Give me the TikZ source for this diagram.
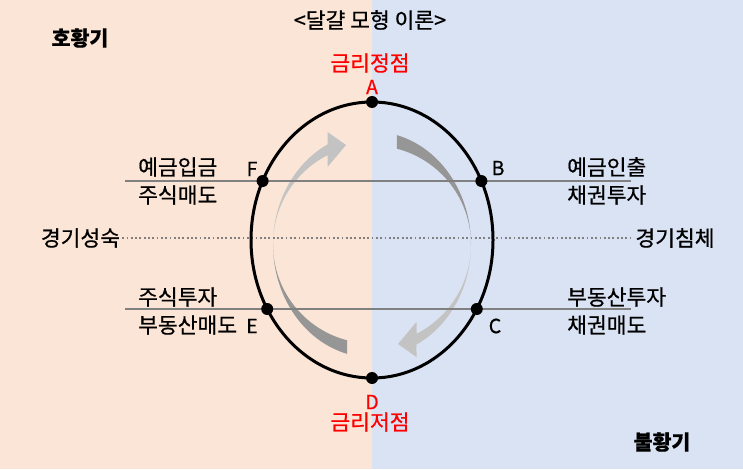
\documentclass[tikz,border=0pt]{standalone}
\usepackage{fontspec}
\setmainfont{Noto Sans CJK KR}[FakeBold=0.6]
\definecolor{peach}{RGB}{251,229,214}
\definecolor{paleblue}{RGB}{218,227,243}
\definecolor{arcdark}{RGB}{150,150,150}
\definecolor{arclight}{RGB}{195,195,195}
\definecolor{rulegray}{RGB}{128,128,128}

\begin{document}
\begin{tikzpicture}[x=1pt,y=1pt,
  txt/.style={inner sep=2pt,font=\fontsize{21.5}{24}\selectfont},
  redtxt/.style={txt,text=red},
  boldtxt/.style={txt,font=\fontsize{20.5}{24}\selectfont\bfseries},
  letter/.style={inner sep=0pt,font=\fontsize{19.5}{21}\selectfont},
  eggdot/.style={circle,fill=black,inner sep=0pt,minimum size=12pt},
  rule/.style={rulegray,line width=2pt},
  midrule/.style={rulegray,line width=1.6pt,dash pattern=on 1.8pt off 2.5pt}]
\useasboundingbox (0,0) rectangle (743,469);
\fill[peach] (0,0) rectangle (372,469);
\fill[paleblue] (372,0) rectangle (743,469);

\fill[arcdark] (471,224.5) arc[start angle=0,end angle=75.4,x radius=99pt,y radius=113pt]
  -- (396.96,320.3) arc[start angle=75.4,end angle=0,x radius=99pt,y radius=99pt] -- cycle;
\fill[arcdark] (273,224.5) arc[start angle=180,end angle=255.4,x radius=99pt,y radius=113pt]
  -- (347.04,128.7) arc[start angle=255.4,end angle=180,x radius=99pt,y radius=99pt] -- cycle;
\fill[arclight] (273,224.5) arc[start angle=180,end angle=116.7,x radius=99pt,y radius=112pt]
  -- (327.5,337) -- (346,324) -- (327.5,302) -- (327.5,313.8)
  arc[start angle=116.7,end angle=180,x radius=99pt,y radius=100pt] -- cycle;
\fill[arclight] (471,224.5) arc[start angle=0,end angle=-63.3,x radius=99pt,y radius=112pt]
  -- (416.5,112) -- (398,125) -- (416.5,147) -- (416.5,135.2)
  arc[start angle=-63.3,end angle=0,x radius=99pt,y radius=100pt] -- cycle;

\coordinate (ul) at (125,288);
\coordinate (ur) at (631,288);
\coordinate (ll) at (125,160);
\coordinate (lr) at (631,160);
\draw[rule] (ul) -- (ur);
\draw[rule] (ll) -- (lr);

\node[txt] (mature) at (80.5,231) {경기성숙};
\node[txt] (slump) at (675,231) {경기침체};
\draw[midrule] (mature.east) -- (slump.west);

\coordinate (egg) at (372,229);
\draw[line width=3pt] (egg) ellipse [x radius=121pt,y radius=138pt];
\path (egg) ++(90:121pt and 138pt) node[eggdot] (A) {};
\path (egg) ++(25.3:121pt and 138pt) node[eggdot] (B) {};
\path (egg) ++(-30:121pt and 138pt) node[eggdot] (C) {};
\path (egg) ++(270:121pt and 138pt) node[eggdot] (D) {};
\path (egg) ++(210:121pt and 138pt) node[eggdot] (E) {};
\path (egg) ++(154.7:121pt and 138pt) node[eggdot] (F) {};

\node[txt] (title) at (370,449) {<달걀 모형 이론>};
\node[boldtxt] (boom) at (80,431) {호황기};
\node[boldtxt] (bust) at (662,27) {불황기};

\node[redtxt] (peak) at (370,406) {금리정점};
\node[letter,text=red] (Alab) at (372,382) {A};
\node[letter,text=red] (Dlab) at (372,67) {D};
\node[redtxt] (trough) at (370,47) {금리저점};

\node[letter] (Flab) at (252,300) {F};
\node[letter] (Blab) at (498,301) {B};
\node[letter] (Elab) at (252,143) {E};
\node[letter] (Clab) at (495,143) {C};

\node[txt,anchor=west] (deposit) at (136,302) {예금입금};
\node[txt,anchor=west] (stocksell) at (136,274) {주식매도};
\node[txt,anchor=west] (stockbuy) at (136,172) {주식투자};
\node[txt,anchor=west] (estatesell) at (136,144) {부동산매도};
\node[txt,anchor=west] (withdraw) at (565,302) {예금인출};
\node[txt,anchor=west] (bondbuy) at (565,274) {채권투자};
\node[txt,anchor=west] (estatebuy) at (565,172) {부동산투자};
\node[txt,anchor=west] (bondsell) at (565,144) {채권매도};
\end{tikzpicture}
\end{document}
